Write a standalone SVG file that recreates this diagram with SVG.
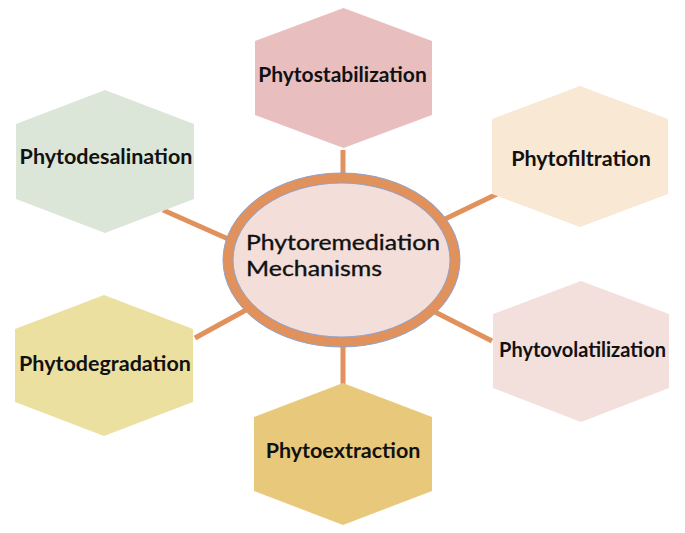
<svg xmlns="http://www.w3.org/2000/svg" width="685" height="533" viewBox="0 0 685 533">
<style>
.lbl{font-family:Lato,"Liberation Sans",sans-serif;font-weight:bold;font-size:21.5px;fill:#111;text-anchor:middle;dominant-baseline:central}
.ctr{font-family:Lato,"Liberation Sans",sans-serif;font-size:21px;fill:#111;stroke:#111;stroke-width:0.35}
.conn{stroke:#e0915c;stroke-width:5;fill:none}
</style>
<rect width="685" height="533" fill="#fff"/>
<g id="connectors">
<line class="conn" x1="343" y1="150" x2="343" y2="176"/>
<line class="conn" x1="163" y1="210" x2="235" y2="242"/>
<line class="conn" x1="497" y1="194" x2="445" y2="219"/>
<line class="conn" x1="492" y1="341" x2="435" y2="312"/>
<line class="conn" x1="343" y1="345" x2="343" y2="384"/>
<line class="conn" x1="195" y1="338" x2="246" y2="310"/>
</g>
<g id="phytostabilization">
<polygon points="343.5,8 432,41 432,115 343.5,148 255,115 255,41" fill="#e8bfbe"/>
<text class="lbl" x="342.5" y="73" style="font-size:21px">Phytostabilization</text>
</g>
<g id="phytodesalination">
<polygon points="105,90 194,124 194,199 105,233 16,199 16,124" fill="#dbe6d8"/>
<text class="lbl" x="106" y="156">Phytodesalination</text>
</g>
<g id="phytofiltration">
<polygon points="580,86 668,119 668,194 580,227 492,194 492,119" fill="#f9e8d3"/>
<text class="lbl" x="581" y="158">Phytofiltration</text>
</g>
<g id="phytovolatilization">
<polygon points="581,281 669,314 669,388 581,422 493,388 493,314" fill="#f3dfdb"/>
<text class="lbl" x="582.5" y="349" style="font-size:20px">Phytovolatilization</text>
</g>
<g id="phytoextraction">
<polygon points="343,383 432,417 432,491 343,525 254,491 254,417" fill="#e8c97c"/>
<text class="lbl" x="343" y="450">Phytoextraction</text>
</g>
<g id="phytodegradation">
<polygon points="104,295 193,329 193,402 104,436 15,402 15,329" fill="#ece0a1"/>
<text class="lbl" x="105" y="363">Phytodegradation</text>
</g>
<g id="center">
<ellipse cx="341.5" cy="260" rx="113.5" ry="82" fill="#f3ded9" stroke="#e0915c" stroke-width="10"/>
<ellipse cx="341.5" cy="260" rx="118.5" ry="87" fill="none" stroke="#8ea3cf" stroke-width="1"/>
<ellipse cx="341.5" cy="260" rx="108.5" ry="77" fill="none" stroke="#8ea3cf" stroke-width="1"/>
<text class="ctr" x="246" y="249.5" textLength="194" lengthAdjust="spacingAndGlyphs">Phytoremediation</text>
<text class="ctr" x="246" y="275.5" textLength="136" lengthAdjust="spacingAndGlyphs">Mechanisms</text>
</g>
</svg>
